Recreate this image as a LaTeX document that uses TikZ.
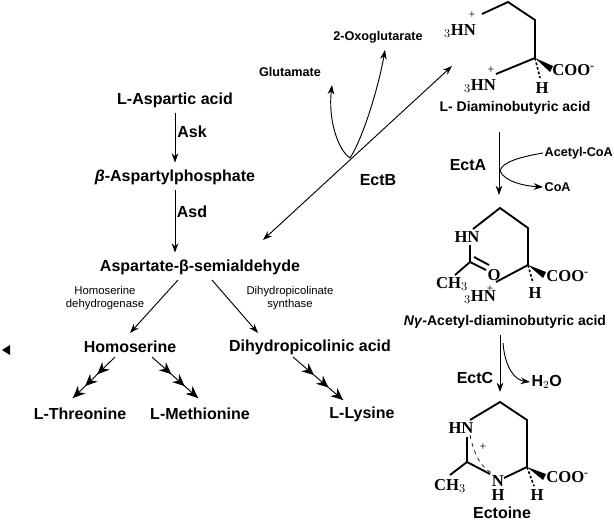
\documentclass[tikz,border=0pt]{standalone}
\usepackage{fontspec}
\setmainfont{Liberation Sans}
\newfontfamily\chem{Liberation Serif}
\usetikzlibrary{arrows.meta,decorations.markings}
\tikzset{
  lbl/.style={font=\bfseries\fontsize{12}{13}\selectfont, inner sep=1pt},
  sml/.style={font=\bfseries\fontsize{9.5}{10}\selectfont, inner sep=1pt},
  enz/.style={font=\fontsize{8.5}{9.5}\selectfont, align=center, inner sep=0pt},
  chm/.style={font=\chem\bfseries\fontsize{12.5}{13}\selectfont, inner sep=0pt},
  pls/.style={font=\chem\fontsize{9}{9}\selectfont, inner sep=0pt},
  bond/.style={line width=1.4pt},
  rx/.style={-{Stealth[length=7pt,width=5pt]}, line width=0.7pt},
  triple/.style={line width=0.7pt, decoration={markings,
    mark=at position 0.42 with {\arrow{Stealth[length=9pt,width=8pt]}},
    mark=at position 0.71 with {\arrow{Stealth[length=9pt,width=8pt]}},
    mark=at position 1 with {\arrow{Stealth[length=9pt,width=8pt]}}}, postaction={decorate}},
}
\begin{document}
\begin{tikzpicture}[x=0.75pt,y=-0.75pt]
\useasboundingbox (0,0) rectangle (614,522);
% aspartate branch
\node[lbl] (asp) at (175,100) {L-Aspartic acid};
\node[lbl] (aspp) at (175,177) {\textit{β}-Aspartylphosphate};
\node[lbl] (asa) at (200,267) {Aspartate-β-semialdehyde};
\node[lbl] (hom) at (130,347) {Homoserine};
\node[lbl] (dhp) at (310,347) {Dihydropicolinic acid};
\node[lbl] (thr) at (80,414) {L-Threonine};
\node[lbl] (met) at (200,414) {L-Methionine};
\node[lbl] (lys) at (362,414) {L-Lysine};
\node[lbl] at (192,132) {Ask};
\node[lbl] at (192,212) {Asd};
\node[enz] at (105,298) {Homoserine\\dehydrogenase};
\node[enz] at (290,298) {Dihydropicolinate\\synthase};
\draw[rx] ([yshift=-3pt]asp.south) -- ([yshift=4pt]aspp.north);
\draw[rx] ([yshift=-3pt]aspp.south) -- ([yshift=4pt]asa.north -| aspp.south);
\draw[rx] (178,280) -- (130,333);
\draw[rx] (212,280) -- (258,333);
\draw[triple] (115,357) -- (73,398);
\draw[triple] (152,357) -- (198,398);
\draw[triple] (293,357) -- (343,400);
\fill (2,350) -- (10,345) -- (10,355) -- cycle;
% EctB
\coordinate (ectb) at (350,158);
\coordinate (tipA) at (263,240);
\coordinate (tipB) at (452,66);
\node[lbl] at (378,180) {EctB};
\node[sml] (glu) at (290,72) {Glutamate};
\node[sml] (oxo) at (378,37) {2-Oxoglutarate};
\draw[rx,{Stealth[length=7pt,width=5pt]}-{Stealth[length=7pt,width=5pt]}] (tipA) -- (tipB);
\draw[rx] (ectb) .. controls (338,150) and (328,120) .. (332,85);
\draw[rx] (ectb) .. controls (362,140) and (378,90) .. (385,50);
% L-2,4-diaminobutyrate
\node[chm] at (460,31) {$_3$HN};
\node[pls] at (472,15) {+};
\node[chm] at (480,86) {$_3$HN};
\node[pls] at (491,70) {+};
\draw[bond] (482,14) -- (508,2) -- (535,20) -- (535,58) -- (496,74);
\fill (535,58) -- (553,66) -- (550,72) -- cycle;
\draw[line width=1.2pt, dash pattern=on 2pt off 1.5pt] (535,58) -- (540,78);
\node[chm] at (542,88) {H};
\node[chm,anchor=west] at (552,70) {COO\textsuperscript{-}};
\node[sml,font=\bfseries\fontsize{10.5}{11}\selectfont] (dab) at (515,108) {L- Diaminobutyric acid};
% EctA
\coordinate (ea) at (499,132);
\coordinate (eb) at (499,195);
\draw[rx] (ea) -- (eb);
\node[lbl] at (468,165) {EctA};
\node[sml,anchor=west] (acoa) at (543,153) {Acetyl-CoA};
\node[sml,anchor=west] (coa) at (543,187) {CoA};
\draw[line width=0.7pt] (acoa.west) .. controls (520,157) and (502,162) .. (500,171);
\draw[rx] (500,171) .. controls (505,182) and (525,186) .. (coa.west);
% N-acetyl-DAB
\node[chm] at (467,237) {HN};
\draw[bond] (473,229) -- (500,208) -- (528,228) -- (528,265) -- (496,282);
\draw[bond] (470,245) -- (470,262) -- (455,275);
\draw[bond] (470,262) -- (486,270);
\draw[bond] (474,257) -- (489,265);
\node[chm] at (494,275) {O};
\node[chm] at (480,297) {$_3$HN};
\node[chm] at (452,284) {CH$_3$};
\node[pls] at (490,289) {+};
\fill (528,265) -- (546,272) -- (543,278) -- cycle;
\draw[line width=1.2pt, dash pattern=on 2pt off 1.5pt] (528,265) -- (533,283);
\node[chm] at (535,293) {H};
\node[chm,anchor=west] at (546,276) {COO\textsuperscript{-}};
\node[sml,font=\bfseries\fontsize{10.5}{11}\selectfont] at (505,322) {\textit{Nγ}-Acetyl-diaminobutyric acid};
% EctC
\coordinate (ca) at (500,335);
\coordinate (cb) at (500,392);
\draw[rx] (ca) -- (cb);
\node[lbl] at (475,378) {EctC};
\node[lbl,anchor=west] (h2o) at (530,382) {H$_2$O};
\draw[rx] (503,343) .. controls (505,368) and (515,380) .. (h2o.west);
% ectoine
\node[chm] at (461,428) {HN};
\draw[bond] (470,420) -- (500,402) -- (527,420) -- (527,467) -- (504,478);
\draw[bond] (467,437) -- (467,462) -- (490,474);
\draw[bond] (467,462) -- (450,475);
\draw[dashed, line width=0.5pt] (470,435) .. controls (475,460) and (485,470) .. (492,473);
\node[pls] at (483,447) {+};
\node[chm] at (498,481) {N};
\node[chm] at (498,495) {H};
\node[chm] at (450,486) {CH$_3$};
\fill (527,467) -- (546,474) -- (543,480) -- cycle;
\draw[line width=1.2pt, dash pattern=on 2pt off 1.5pt] (527,467) -- (534,486);
\node[chm] at (537,495) {H};
\node[chm,anchor=west] at (546,477) {COO\textsuperscript{-}};
\node[lbl] at (502,513) {Ectoine};
\end{tikzpicture}
\end{document}
